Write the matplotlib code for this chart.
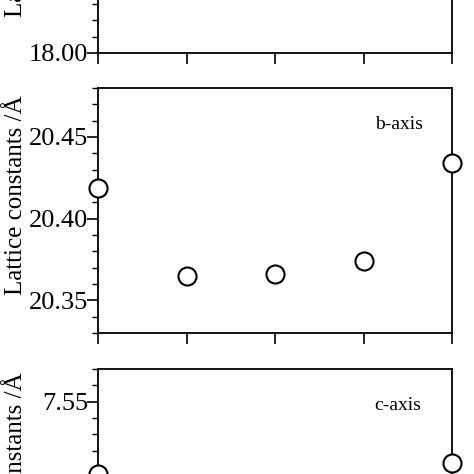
import numpy as np
import matplotlib
matplotlib.use("Agg")
import matplotlib.pyplot as plt
from matplotlib.ticker import MultipleLocator, FormatStrFormatter

plt.rcParams['font.family'] = ['Liberation Serif', 'DejaVu Serif']

# composition steps (five equally spaced positions)
x_pos = [0.0, 0.25, 0.5, 0.75, 1.0]

# b-axis lattice constants (A)
b_axis = [20.419, 20.365, 20.366, 20.374, 20.434]

# c-axis lattice constants (A), only the two visible points
c_x = [0.0, 1.0]
c_axis = [7.506, 7.5125]

ylabel = "Lattice constants /Å"


def style_axes(ax, ylo, yhi, label_y):
    ax.set_xlim(0, 1)
    ax.set_ylim(ylo, yhi)
    ax.set_xticks(x_pos)
    ax.yaxis.set_major_locator(MultipleLocator(0.05))
    ax.yaxis.set_minor_locator(MultipleLocator(0.01))
    ax.yaxis.set_major_formatter(FormatStrFormatter('%.2f'))
    ax.tick_params(axis='both', which='major', direction='out', length=8,
                   width=1.2, labelsize=19, pad=-1, top=False, right=False)
    ax.tick_params(axis='y', which='minor', direction='out', length=4,
                   width=1.0, right=False)
    ax.tick_params(axis='x', labelbottom=False)
    for s in ax.spines.values():
        s.set_linewidth(1.3)
    ax.set_ylabel(ylabel, fontsize=18)
    ax.yaxis.set_label_coords(-0.2, label_y)


fig = plt.figure(figsize=(4.74, 4.74), dpi=100)
left, width, height = 0.2068, 0.7468, 0.5169

ax_a = fig.add_axes([left, 0.8882, width, height])
style_axes(ax_a, 18.00, 18.15, 0.555)

ax_b = fig.add_axes([left, 0.2975, width, height])
style_axes(ax_b, 20.33, 20.48, 0.563)
ax_b.plot(x_pos, b_axis, 'o', ms=13, mfc='white', mec='black', mew=1.5,
          clip_on=False, zorder=5)
ax_b.text(0.85, 0.85, 'b-axis', transform=ax_b.transAxes, fontsize=14,
          ha='center', va='center')

ax_c = fig.add_axes([left, -0.2954, width, height])
style_axes(ax_c, 7.42, 7.57, 0.58)
ax_c.plot(c_x, c_axis, 'o', ms=13, mfc='white', mec='black', mew=1.5,
          clip_on=False, zorder=5)
ax_c.text(0.847, 0.853, 'c-axis', transform=ax_c.transAxes, fontsize=14,
          ha='center', va='center')

fig.savefig('out.png', dpi=100)
